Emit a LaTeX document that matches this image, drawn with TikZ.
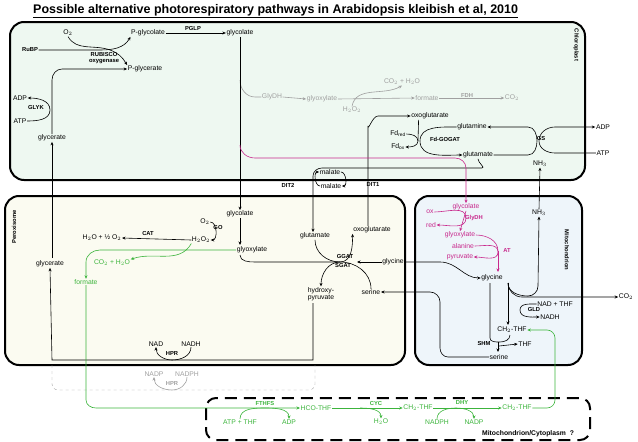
\documentclass[tikz,border=0pt]{standalone}
\usepackage{fontspec}
\setmainfont{Liberation Sans}
\usetikzlibrary{arrows.meta}
\definecolor{chl}{HTML}{EEF8F1}
\definecolor{per}{HTML}{FBFBF1}
\definecolor{mit}{HTML}{EEF5FA}
\definecolor{mg}{HTML}{C8288C}
\definecolor{gr}{HTML}{3CB43C}
\definecolor{gy}{HTML}{A0A0A0}
\begin{document}
\begin{tikzpicture}[x=1pt,y=-1pt,
  lab/.style={font=\fontsize{6.8}{7.5}\selectfont,inner sep=0.5pt},
  enz/.style={font=\bfseries\fontsize{5.8}{6.2}\selectfont,inner sep=0.5pt},
  ar/.style={-{Stealth[length=3.5pt,width=3pt]},line width=0.6pt},
  ln/.style={line width=0.6pt},
  mem/.style={line width=2pt,rounded corners=14pt}]
\useasboundingbox (0,0) rectangle (638,442);
% compartments
\draw[mem,fill=chl] (10,22) rectangle (585,180);
\draw[mem,fill=per] (5,196) rectangle (405,365);
\draw[mem,fill=mit] (415,196) rectangle (582,365);
\draw[line width=2pt,dash pattern=on 12pt off 7pt,rounded corners=10pt] (206,398) rectangle (590,440);
\draw[gy,dashed,rounded corners=6pt] (52,365) -- (52,390) -- (315,390) -- (315,365);
\node[font=\bfseries\fontsize{12.5}{13}\selectfont,anchor=west,inner sep=0pt] (title) at (33,11) {\underline{Possible alternative photorespiratory pathways in Arabidopsis kleibish et al, 2010}};
\node[enz,rotate=-90] (lchl) at (576,45) {Chloroplast};
\node[enz,rotate=90] (lper) at (14,227) {Peroxisome};
\node[enz,rotate=-90] (lmit) at (567,250) {Mitochondrion};
% chloroplast
\node[lab] (o2) at (68,33) {O$_2$};
\node[lab] (pgc) at (148,33) {P-glycolate};
\node[lab] (gc) at (240,33) {glycolate};
\node[enz] (pglp) at (193,29) {PGLP};
\draw[ar] (pgc) -- (gc);
\node[enz] (rubp) at (30,50) {RuBP};
\node[enz,align=center] (rub) at (104,58) {RUBISCO\\oxygenase};
\node[lab] (pgl) at (145,69) {P-glycerate};
\draw[ar] (rubp.east) -- (100,50) to[out=0,in=-120] (pgc.south west);
\draw[ar] (o2.south) to[out=-60,in=160] (110,50) to[out=-20,in=120] (pgl.north west);
\node[lab] (adp1) at (20,98) {ADP};
\node[enz] (glyk) at (36,108) {GLYK};
\node[lab] (atp1) at (20,121) {ATP};
\node[lab] (gly1) at (52,138) {glycerate};
\draw[ar] (gly1.north) -- (52,80) to[out=90,in=180] (62,69) -- (pgl.west);
\draw[ar] (atp1.east) to[out=0,in=-90] (50,110) to[out=90,in=0] (adp1.east);
\node[lab,gy] (glydh1) at (272,97) {GlyDH};
\node[lab,gy] (glx1) at (322,99) {glyoxylate};
\node[lab,gy] (co2h) at (402,82) {CO$_2$ + H$_2$O};
\node[lab,gy] (form1) at (427,98) {formate};
\node[enz,gy] (fdh) at (467,96) {FDH};
\node[lab,gy] (co21) at (512,98) {CO$_2$};
\node[lab,gy] (h2o21) at (352,110) {H$_2$O$_2$};
\draw[ar,gy] (glydh1.east) -- (glx1.west);
\draw[ar,gy] (glx1.east) -- (form1.west);
\draw[ar,gy] (form1.east) -- (co21.west);
\draw[ar,gy] (h2o21.north) to[out=80,in=-150] (co2h.south);
\draw[ln,gy] (240,80) to[out=-90,in=180] (255,97) -- (glydh1.west);
\node[lab] (oxo1) at (430,116) {oxoglutarate};
\node[lab] (gln) at (472,127) {glutamine};
\node[lab] (fdr) at (398,134) {Fd$_{\rm red}$};
\node[enz] (gogat) at (445,139) {Fd-GOGAT};
\node[lab] (fdo) at (398,147) {Fd$_{\rm ox}$};
\node[enz] (gs) at (541,139) {GS};
\node[lab] (adp2) at (603,127) {ADP};
\node[lab] (atp2) at (603,153) {ATP};
\node[lab] (glu1) at (478,155) {glutamate};
\node[lab] (nh31) at (540,164) {NH$_3$};
\draw[ar] (gln.west) to[out=180,in=90] (420,141) to[out=-90,in=180] (glu1.west);
\draw[ln] (oxo1.south west) ++(8,0) -- (418,141);
\draw[ar] (fdr.east) to[out=0,in=90] (418,141) to[out=-90,in=0] (fdo.east);
\draw[ar] (glu1.east) -- (528,155) to[out=0,in=-90] (537,141) to[out=90,in=0] (528,127) -- (gln.east);
\draw[ar] (atp2.west) -- (555,153) to[out=180,in=-90] (539,141) to[out=90,in=180] (555,127) -- (adp2.west);
% malate shuttle
\node[lab] (mal1) at (330,172) {malate};
\node[lab] (mal2) at (331,186) {malate};
\node[enz] (dit2) at (288,185) {DIT2};
\node[enz] (dit1) at (373,185) {DIT1};
\draw[ar] (mal1.east) to[out=0,in=0] (mal2.east);
\draw[ar] (mal2.west) to[out=180,in=180] (mal1.west);
% long connectors chl <-> per
\node[lab] (gc2) at (240,214) {glycolate};
\draw[ar] (gc.south) -- (gc2.north);
\draw[ar] (gly1.north |- 258,258) -- (gly1.south);
\node[lab] (glu2) at (315,236) {glutamate};
\node[lab] (oxo2) at (372,230) {oxoglutarate};
\draw[ar] (glu1.south) to[out=-90,in=0] (482,168) -- (322,168) to[out=180,in=90] (313,176) -- (glu2.north -| 313,0);
\draw[ar] (oxo2.north -| 368,0) -- (368,126) to[out=-90,in=180] (378,116) -- (oxo1.west);
% per
\node[lab] (o22) at (205,222) {O$_2$};
\node[enz] (go) at (218,228) {GO};
\node[lab] (h2o22) at (201,240) {H$_2$O$_2$};
\node[enz] (cat) at (148,234) {CAT};
\node[lab] (h2o) at (102,238) {H$_2$O + ½ O$_2$};
\node[lab] (glx2) at (252,250) {glyoxylate};
\node[lab,gr] (co2h2) at (112,263) {CO$_2$ + H$_2$O};
\node[lab,gr] (form2) at (86,282) {formate};
\node[lab] (gly2) at (50,264) {glycerate};
\draw[ar] (gc2.south) -- (240,245);
\draw[ar] (o22.east) to[out=0,in=0] (h2o22.east);
\draw[ar] (h2o22.west) -- (h2o.east);
\draw[ar,gr] (h2o22.south west) to[out=-120,in=20] (co2h2.north east);
\draw[ar,gr] (glx2.west) -- (100,250) to[out=180,in=90] (86,262) -- (form2.north);
\node[enz] (ggat) at (345,257) {GGAT};
\node[enz] (sgat) at (343,266) {SGAT};
\node[lab] (gly3) at (393,262) {glycine};
\node[lab,align=center] (hpy) at (321,294) {hydroxy-\\pyruvate};
\node[lab] (ser2) at (371,292) {serine};
\draw[ln] (240,255) to[out=-90,in=180] (255,262) -- (340,262);
\draw[ar] (glu2.south) to[out=-90,in=180] (340,262) to[out=0,in=-90] (oxo2.south west);
\draw[ar] (gly3.west) -- (357,262);
\draw[ar] (ser2.north) to[out=90,in=0] (340,262) to[out=180,in=90] (hpy.north);
\draw[ar] (313,303) -- (313,360) -- (52,360) -- (gly2.south);
\node[lab] (nad) at (156,344) {NAD};
\node[lab] (nadh) at (191,344) {NADH};
\node[enz] (hpr) at (172,354) {HPR};
\draw[ar] (nadh.south) to[out=-90,in=0] (172,360) to[out=180,in=-90] (nad.south);
\node[lab,gy] (nadp) at (154,374) {NADP};
\node[lab,gy] (nadph) at (187,374) {NADPH};
\node[enz,gy] (hpr2) at (172,384) {HPR};
\draw[ar,gy] (nadph.south) to[out=-90,in=0] (172,390) to[out=180,in=-90] (nadp.south);
% mito
\node[lab,mg] (gc3) at (466,207) {glycolate};
\node[lab,mg] (ox) at (430,212) {ox};
\node[enz,mg] (glydh2) at (474,218) {GlyDH};
\node[lab,mg] (red) at (431,225) {red};
\node[lab,mg] (glx3) at (460,235) {glyoxylate};
\node[lab,mg] (ala) at (463,246) {alanine};
\node[enz,mg] (at) at (507,251) {AT};
\node[lab,mg] (pyr) at (460,257) {pyruvate};
\draw[ar,mg] (240,145) to[out=-90,in=180] (255,158) -- (455,158) to[out=0,in=90] (466,168) -- (gc3.north);
\draw[ar,mg] (gc3.south) -- (glx3.north);
\draw[ar,mg] (ox.east) to[out=0,in=90] (466,218) to[out=-90,in=0] (red.east);
\draw[ln,mg] (glx3.east) to[out=0,in=90] (498,251);
\draw[ar,mg] (ala.east) to[out=0,in=90] (498,252) to[out=-90,in=0] (pyr.east);
\draw[ar,mg] (498,251) -- (498,272);
\node[lab] (gly4) at (492,278) {glycine};
\node[lab] (nh32) at (539,213) {NH$_3$};
\node[lab] (co22) at (626,297) {CO$_2$};
\node[lab] (nadthf) at (555,304) {NAD + THF};
\node[enz] (gld) at (534,310) {GLD};
\node[lab] (nadh2) at (550,317) {NADH};
\node[lab] (ch2m) at (512,330) {CH$_2$-THF};
\node[enz] (shm) at (484,344) {SHM};
\node[lab] (thf) at (525,344) {THF};
\node[lab] (ser3) at (499,357) {serine};
\draw[ar] (gly3.east) -- (440,262) to[out=0,in=180] (gly4.west);
\draw[ar] (ser3.west) -- (448,357) to[out=180,in=-90] (440,348) -- (440,302) to[out=90,in=0] (430,292) -- (ser2.east);
\draw[ar] (nh32.north) -- (nh31.south);
\draw[ar] (508,283) to[out=-90,in=180] (528,296) to[out=0,in=-90] (538,286) -- (nh32.south);
\draw[ar] (508,283) to[out=-90,in=180] (522,297) -- (co22.west);
\draw[ar] (508,283) -- (508,325);
\draw[ar] (nadthf.west) to[out=180,in=90] (520,310) to[out=-90,in=180] (nadh2.west);
\draw[ln] (490,283) -- (490,338) to[out=-90,in=180] (500,342) to[out=0,in=-90] (510,335);
\draw[ar] (498,342) -- (498,352);
\draw[ar] (499,346) -- (thf.west);
% bottom (green)
\node[enz,gr] (fthfs) at (265,403) {FTHFS};
\node[lab,gr] (hco) at (316,408) {HCO-THF};
\node[enz,gr] (cyc) at (376,403) {CYC};
\node[lab,gr] (ch2a) at (418,408) {CH$_2$-THF};
\node[enz,gr] (dhy) at (462,403) {DHY};
\node[lab,gr] (ch2b) at (517,408) {CH$_2$-THF};
\node[lab,gr] (atpthf) at (240,422) {ATP + THF};
\node[lab,gr] (adp3) at (289,422) {ADP};
\node[lab,gr] (h2o3) at (381,422) {H$_2$O};
\node[lab,gr] (nadph3) at (437,422) {NADPH};
\node[lab,gr] (nadp3) at (474,422) {NADP};
\node[font=\bfseries\fontsize{6.8}{7.5}\selectfont,inner sep=0.5pt] (mc) at (528,434) {Mitochondrion/Cytoplasm \ ?};
\draw[ar,gr] (form2.south) -- (86,400) to[out=-90,in=180] (96,408) -- (hco.west);
\draw[ar,gr] (atpthf.north) to[out=90,in=180] (265,408) to[out=0,in=90] (adp3.north);
\draw[ar,gr] (hco.east) -- (ch2a.west);
\draw[ar,gr] (360,408) to[out=0,in=90] (h2o3.north);
\draw[ar,gr] (ch2a.east) -- (ch2b.west);
\draw[ar,gr] (nadph3.north) to[out=90,in=180] (456,408) to[out=0,in=90] (nadp3.north);
\draw[ar,gr] (ch2b.east) -- (547,408) to[out=0,in=-90] (555,400) -- (555,338) to[out=90,in=0] (547,330) -- (ch2m.east);
\end{tikzpicture}
\end{document}
